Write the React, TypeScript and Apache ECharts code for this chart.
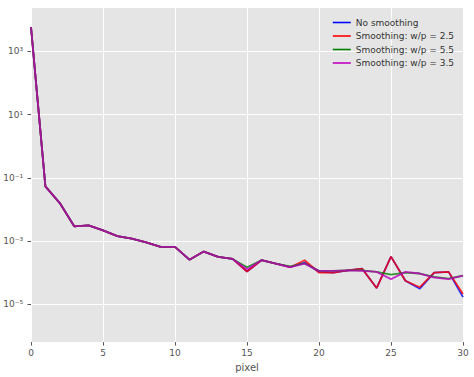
import React, { useEffect, useRef } from "react";
import * as echarts from "echarts";

const pixels = Array.from({ length: 31 }, (_, i) => i);

const noSmoothing = [
  5.9e3, 5.4e-2, 1.6e-2, 2.95e-3, 3.15e-3, 2.2e-3, 1.45e-3, 1.2e-3, 9.1e-4, 6.6e-4,
  6.6e-4, 2.6e-4, 4.7e-4, 3.2e-4, 2.75e-4, 1.1e-4, 2.5e-4, 1.95e-4, 1.5e-4, 2.1e-4,
  1.07e-4, 1.02e-4, 1.2e-4, 1.35e-4, 3.3e-5, 3.25e-4, 5.6e-5, 3.15e-5, 1.02e-4, 1.07e-4,
  1.7e-5,
];
const smooth25 = [
  5.9e3, 5.4e-2, 1.6e-2, 2.95e-3, 3.15e-3, 2.2e-3, 1.45e-3, 1.2e-3, 9.1e-4, 6.6e-4,
  6.6e-4, 2.6e-4, 4.7e-4, 3.2e-4, 2.75e-4, 1.1e-4, 2.5e-4, 1.95e-4, 1.5e-4, 2.5e-4,
  1.02e-4, 1.02e-4, 1.2e-4, 1.35e-4, 3.3e-5, 3.25e-4, 5.6e-5, 3.5e-5, 1.02e-4, 1.07e-4,
  2.15e-5,
];
const smooth55 = [
  5.9e3, 5.4e-2, 1.6e-2, 2.95e-3, 3.15e-3, 2.2e-3, 1.45e-3, 1.2e-3, 9.1e-4, 6.6e-4,
  6.6e-4, 2.6e-4, 4.7e-4, 3.2e-4, 2.75e-4, 1.5e-4, 2.5e-4, 1.95e-4, 1.6e-4, 2.0e-4,
  1.15e-4, 1.15e-4, 1.2e-4, 1.2e-4, 1.07e-4, 8.7e-5, 1.02e-4, 9.5e-5, 7.4e-5, 6.6e-5,
  8.1e-5,
];
const smooth35 = [
  5.9e3, 5.4e-2, 1.6e-2, 2.95e-3, 3.15e-3, 2.2e-3, 1.45e-3, 1.2e-3, 9.1e-4, 6.6e-4,
  6.6e-4, 2.6e-4, 4.7e-4, 3.2e-4, 2.75e-4, 1.3e-4, 2.5e-4, 1.95e-4, 1.5e-4, 1.95e-4,
  1.15e-4, 1.15e-4, 1.2e-4, 1.15e-4, 1.07e-4, 6.3e-5, 1.07e-4, 9.5e-5, 7.1e-5, 6.3e-5,
  8.1e-5,
];

const seriesNames = [
  "No smoothing",
  "Smoothing: w/p = 2.5",
  "Smoothing: w/p = 5.5",
  "Smoothing: w/p = 3.5",
];
const seriesColors = ["#0000ff", "#ff0000", "#008000", "#bf00bf"];
const seriesValues = [noSmoothing, smooth25, smooth55, smooth35];

const yTickExponents = [-5, -3, -1, 1, 3];
const xTicks = [0, 5, 10, 15, 20, 25, 30];

const sup: Record<string, string> = {
  "-": "\u207B", "0": "\u2070", "1": "\u00B9", "2": "\u00B2", "3": "\u00B3",
  "4": "\u2074", "5": "\u2075", "6": "\u2076", "7": "\u2077", "8": "\u2078", "9": "\u2079",
};
const toSup = (n: number) => String(n).split("").map((c) => sup[c] || c).join("");

export default function App() {
  const ref = useRef<HTMLDivElement>(null);
  useEffect(() => {
    if (!ref.current) return;
    const chart = echarts.init(ref.current, undefined, { renderer: "svg" });
    const font = "DejaVu Sans";
    chart.setOption({
      animation: false,
      textStyle: { fontFamily: font },
      grid: {
        left: 31,
        right: 11,
        top: 8,
        bottom: 32,
        show: true,
        backgroundColor: "#E5E5E5",
        borderWidth: 0,
      },
      legend: {
        orient: "vertical",
        right: 15,
        top: 13,
        icon: "rect",
        itemWidth: 18,
        itemHeight: 1.6,
        itemGap: 4.5,
        data: seriesNames,
        textStyle: { fontFamily: font, fontSize: 9, color: "#333" },
      },
      xAxis: {
        type: "value",
        min: 0,
        max: 30,
        interval: 5,
        name: "pixel",
        nameLocation: "middle",
        nameGap: 16,
        nameTextStyle: { fontFamily: font, fontSize: 10, color: "#555" },
        axisLine: { show: false, onZero: false },
        axisTick: { show: true, length: 3.5, lineStyle: { color: "#555" }, customValues: xTicks },
        axisLabel: { fontSize: 9, color: "#555", margin: 6, customValues: xTicks },
        splitLine: { show: true, lineStyle: { color: "#ffffff", width: 1 } },
      },
      yAxis: {
        type: "value",
        min: -6.19,
        max: 4.37,
        axisLine: { show: false, onZero: false },
        axisTick: {
          show: true,
          length: 3.5,
          lineStyle: { color: "#555" },
          customValues: yTickExponents,
        },
        axisLabel: {
          fontSize: 9,
          color: "#555",
          margin: 8,
          customValues: yTickExponents,
          formatter: (v: number) => "10" + toSup(Math.round(v)),
        },
        splitLine: { show: true, lineStyle: { color: "#ffffff", width: 1 } },
      },
      series: seriesNames.map((name, k) => ({
        name,
        type: "line",
        showSymbol: false,
        symbol: "none",
        data: pixels.map((p, i) => [p, Math.log10(seriesValues[k][i])]),
        lineStyle: { color: seriesColors[k], width: 1.8, opacity: 0.8 },
        itemStyle: { color: seriesColors[k] },
      })),
    });
    return () => chart.dispose();
  }, []);
  return <div ref={ref} style={{ width: 474, height: 377, position: "absolute", left: 0, top: 0 }} />;
}
